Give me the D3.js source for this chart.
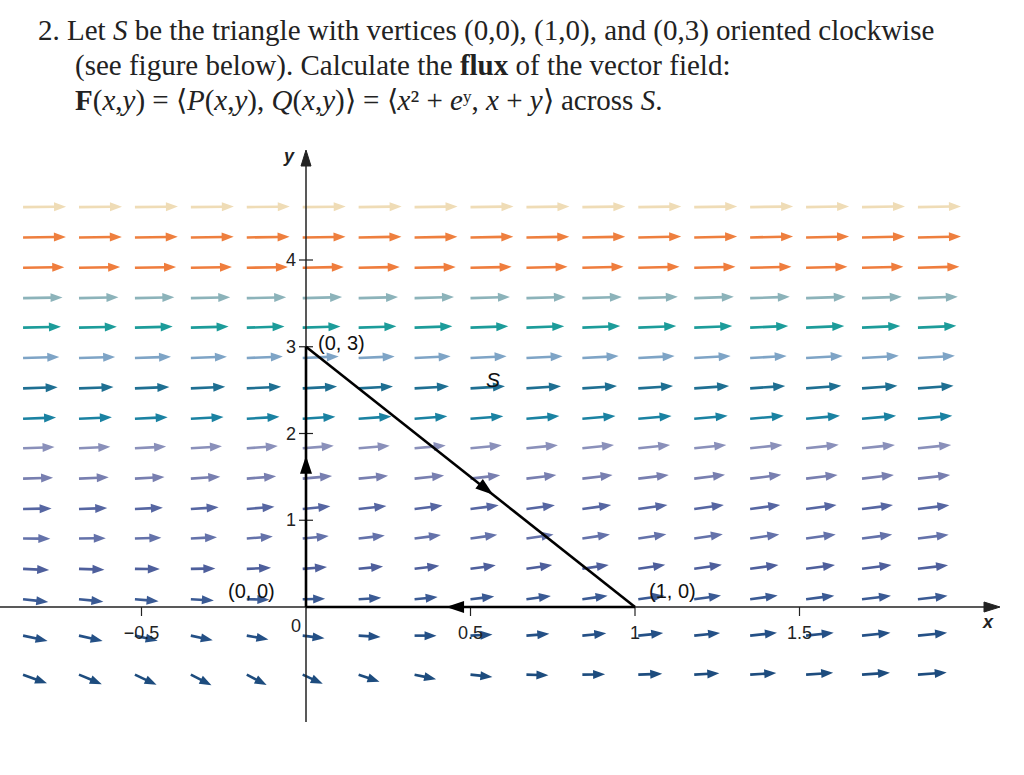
<!DOCTYPE html>
<html><head><meta charset="utf-8">
<script src="https://cdn.jsdelivr.net/npm/d3@7"></script>
<style>body{margin:0;background:#fff}svg{display:block}</style>
</head><body>
<script>
// field F(x,y) = <x^2 + e^y, x + y> sampled on a grid
const colX = [-0.86,-0.69,-0.52,-0.35,-0.18,-0.01,0.16,0.33,0.50,0.67,0.84,1.01,1.18,1.35,1.52,1.69,1.86];
const rowY = [4.61,4.26,3.91,3.56,3.22,2.87,2.52,2.17,1.83,1.48,1.13,0.79,0.44,0.09,-0.33,-0.78];
const rowColors = ["#efdcb6","#ee7f3e","#ef7d3d","#8cb3ba","#1c9c9a","#7ea4c6","#1e6f92","#1a82a2","#8a90ba","#787fb0","#5666a2","#6472aa","#4e5f9c","#3a5a94","#245086","#1d4c7e"];
const xTicks = [-0.5,0,0.5,1,1.5];
const xTickLabels = ["−0.5","0","0.5","1","1.5"];
const yTicks = [1,2,3,4];
const triangle = [[0,0],[0,3],[1,0]];
const titleLines = [
  [["2.  Let ",""],["S","i"],[" be the triangle with vertices (0,0), (1,0), and (0,3) oriented clockwise",""]],
  [["(see figure below). Calculate the ",""],["flux","b"],[" of the vector field:",""]],
  [["F","b"],["(",""],["x","i"],[",",""],["y","i"],[") = ⟨",""],["P","i"],["(",""],["x","i"],[",",""],["y","i"],["), ",""],["Q","i"],["(",""],["x","i"],[",",""],["y","i"],[")⟩ = ⟨",""],["x","i"],["²",""],[" + ",""],["e","i"],["ʸ",""],[", ",""],["x","i"],[" + ",""],["y","i"],["⟩ across ",""],["S","i"],[".",""]]
];

const svg = d3.select("body").append("svg").attr("width",1024).attr("height",775);
const x = d3.scaleLinear().domain([0,1]).range([306,635]);
const y = d3.scaleLinear().domain([0,4]).range([607,260]);

// title
const tx=[38,75,75];
titleLines.forEach((ln,i)=>{
  const t=svg.append("text").attr("x",tx[i]).attr("y",40+i*35).attr("font-family","Liberation Serif, Times New Roman, serif").attr("font-size",29).attr("fill","#222");
  ln.forEach(([s,st])=>t.append("tspan").text(s).attr("font-style",st==="i"?"italic":null).attr("font-weight",st==="b"?"bold":null));
});

// vector field arrows
const g = svg.append("g");
rowY.forEach((yy,ri)=>{
  colX.forEach(xx=>{
    const P = xx*xx+Math.exp(yy), Q = xx+yy;
    const mag = Math.hypot(P,Q);
    const px = P*(x(1)-x(0)), py = -Q*(y(0)-y(1));
    const n = Math.hypot(px,py);
    const L = 22 + 21*Math.min(1,Math.max(0,Math.log(mag))/4.3);
    const ux=px/n, uy=py/n;
    const x0=x(xx), y0=y(yy), x1=x0+ux*L, y1=y0+uy*L;
    const hl=12, hw=4.5;
    const bx=x1-ux*hl, by=y1-uy*hl;
    g.append("line").attr("x1",x0).attr("y1",y0).attr("x2",bx+ux*2).attr("y2",by+uy*2)
      .attr("stroke",rowColors[ri]).attr("stroke-width",2.6);
    g.append("path").attr("d",`M${x1},${y1}L${bx-uy*hw},${by+ux*hw}L${bx+uy*hw},${by-ux*hw}Z`).attr("fill",rowColors[ri]);
  });
});

// axes
const ax = svg.append("g").attr("stroke","#222");
ax.append("line").attr("x1",0).attr("x2",990).attr("y1",y(0)).attr("y2",y(0)).attr("stroke-width",1.5);
ax.append("path").attr("d",`M1000,${y(0)}L984,${y(0)-5}L984,${y(0)+5}Z`).attr("fill","#222");
ax.append("line").attr("x1",x(0)).attr("x2",x(0)).attr("y1",722).attr("y2",160).attr("stroke-width",1.5);
ax.append("path").attr("d",`M${x(0)},150L${x(0)-5},166L${x(0)+5},166Z`).attr("fill","#222");
const font="Liberation Sans, Arial, sans-serif";
xTicks.forEach((t,i)=>{
  if(t!==0) ax.append("line").attr("x1",x(t)).attr("x2",x(t)).attr("y1",y(0)).attr("y2",y(0)+9).attr("stroke-width",1.2);
  svg.append("text").attr("x",x(t)+(t===0?-10:0)).attr("y",t===0?y(0)+25:y(0)+32).attr("text-anchor","middle")
    .attr("font-family",font).attr("font-size",18).attr("fill","#222").text(xTickLabels[i]);
});
yTicks.forEach(t=>{
  ax.append("line").attr("x1",x(0)-7).attr("x2",x(0)+7).attr("y1",y(t)).attr("y2",y(t)).attr("stroke-width",1.2);
  svg.append("text").attr("x",x(0)-10).attr("y",y(t)+6).attr("text-anchor","end")
    .attr("font-family",font).attr("font-size",18).attr("fill","#222").text(t);
});
svg.append("text").attr("x",983).attr("y",628).attr("font-family",font).attr("font-weight","bold").attr("font-style","italic").attr("font-size",18).attr("fill","#222").text("x");
svg.append("text").attr("x",284).attr("y",162).attr("font-family",font).attr("font-weight","bold").attr("font-style","italic").attr("font-size",18).attr("fill","#222").text("y");

// triangle
const pts = triangle.concat([triangle[0]]);
for(let i=0;i<3;i++){
  const [a,b]=[pts[i],pts[i+1]];
  const X0=x(a[0]),Y0=y(a[1]),X1=x(b[0]),Y1=y(b[1]);
  svg.append("line").attr("x1",X0).attr("y1",Y0).attr("x2",X1).attr("y2",Y1).attr("stroke","#000").attr("stroke-width",2.6);
  const d=Math.hypot(X1-X0,Y1-Y0), ux=(X1-X0)/d, uy=(Y1-Y0)/d;
  const fr=0.55;
  const mx=X0+(X1-X0)*fr+ux*8, my=Y0+(Y1-Y0)*fr+uy*8;
  const bx=mx-ux*18, by=my-uy*18;
  svg.append("path").attr("d",`M${mx},${my}L${bx-uy*6},${by+ux*6}L${bx+uy*6},${by-ux*6}Z`).attr("fill","#000");
}
const lab=(t,xx,yy)=>svg.append("text").attr("x",xx).attr("y",yy).attr("font-family",font).attr("font-size",20).attr("fill","#111").text(t);
lab("(0, 3)",318,350);
lab("(0, 0)",228,598);
lab("(1, 0)",649,598);
svg.append("text").attr("x",486).attr("y",387).attr("font-family",font).attr("font-style","italic").attr("font-size",21).attr("fill","#111").text("S");
</script>
</body></html>
